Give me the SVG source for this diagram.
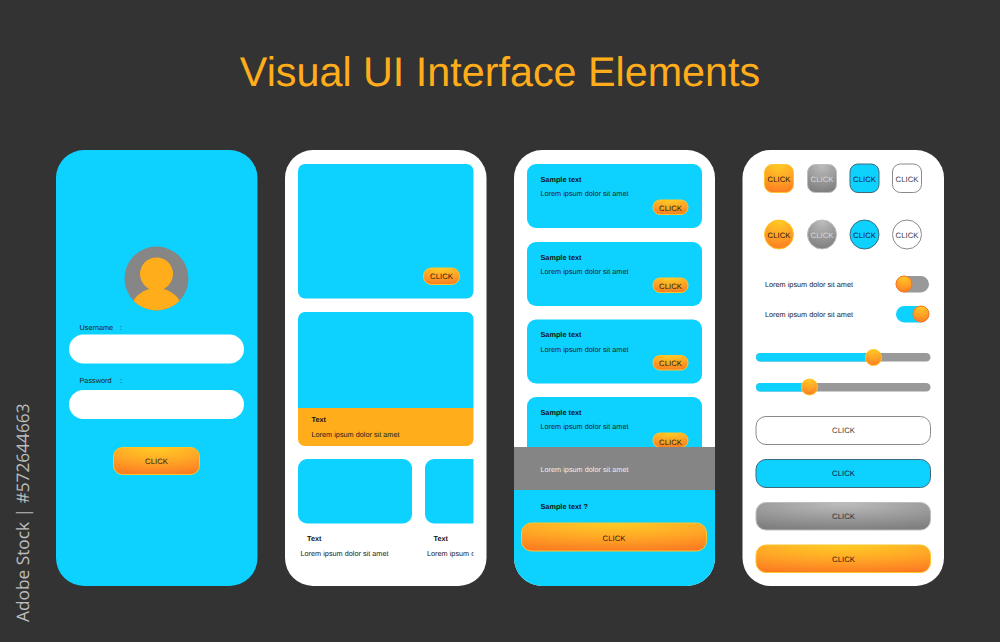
<svg xmlns="http://www.w3.org/2000/svg" width="1000" height="642" viewBox="0 0 1000 642">
<style>
text{font-family:"Liberation Sans",Arial,sans-serif;fill:#222;text-rendering:geometricPrecision}
.c{text-anchor:middle}
.s{font-size:7.300px}
.b{font-size:7.300px;font-weight:700;fill:#111}
.k{font-size:7.800px;text-anchor:middle;fill:#33230f}
.blue{fill:#0dd2ff}
.white{fill:#fff}
.or{fill:url(#og);stroke:#ffc42a;stroke-width:1}
.gr{fill:url(#gg);stroke:#bdbdbd;stroke-width:1}
.ol{fill:#fff;stroke:#8a8a8a;stroke-width:1}
.bl{fill:#0dd2ff;stroke:#3b6a78;stroke-width:1}
.track{fill:#999}
</style>
<defs>
<radialGradient id="og" cx="0.5" cy="-0.05" r="1.2"><stop offset="0" stop-color="#ffd024"/><stop offset="0.5" stop-color="#ffa526"/><stop offset="1" stop-color="#fb7020"/></radialGradient>
<radialGradient id="gg" cx="0.5" cy="0.05" r="0.95"><stop offset="0" stop-color="#bcbcbc"/><stop offset="1" stop-color="#7f7f7f"/></radialGradient>
<clipPath id="av"><circle cx="156.500" cy="278.500" r="32"/></clipPath>
<clipPath id="cp2"><rect x="298" y="459" width="175.500" height="110"/></clipPath>
<clipPath id="cp3"><rect x="514" y="150" width="201" height="436" rx="28"/></clipPath>
</defs>
<rect width="1000" height="642" fill="#333333"/>
<text x="500" y="86" class="c" style="font-size:41.300px;fill:#ffad1a">Visual UI Interface Elements</text>
<text transform="translate(29,622) rotate(-90)" style="font-size:17.300px;fill:#bdbdbd;font-family:'Open Sans',sans-serif">Adobe Stock | #572644663</text>

<g id="screen-login">
<rect x="56" y="150" width="201.500" height="436" rx="28" class="blue"/>
<circle cx="156.500" cy="278.500" r="32" fill="#868686"/>
<g clip-path="url(#av)"><circle cx="156.500" cy="274" r="16.500" fill="#ffad1a"/><ellipse cx="156.500" cy="314" rx="27" ry="26" fill="#ffad1a"/></g>
<text x="79.500" y="330" class="s">Username</text><text x="120" y="330" class="s">:</text>
<rect x="69" y="334.500" width="175" height="29" rx="14.500" class="white"/>
<text x="79.500" y="383" class="s">Password</text><text x="120" y="383" class="s">:</text>
<rect x="69" y="390" width="175" height="29" rx="14.500" class="white"/>
<rect x="113.500" y="447.500" width="86" height="27" rx="9" class="or"/>
<text x="156.500" y="464" class="k">CLICK</text>
</g>

<g id="screen-cards">
<rect x="285" y="150" width="201.500" height="436" rx="28" class="white"/>
<rect x="298" y="164" width="175.500" height="134.500" rx="7" class="blue"/>
<rect x="423.500" y="268" width="36" height="16.500" rx="8" class="or"/>
<text x="441.500" y="279.300" class="k">CLICK</text>
<path d="M305 312H466.500a7 7 0 0 1 7 7V408H298V319a7 7 0 0 1 7-7z" class="blue"/>
<path d="M298 408H473.500V439a7 7 0 0 1-7 7H305a7 7 0 0 1-7-7z" fill="#ffad1a"/>
<text x="311.500" y="422" class="b">Text</text>
<text x="311.500" y="436.500" class="s">Lorem ipsum dolor sit amet</text>
<rect x="298" y="459" width="114" height="64.500" rx="9" class="blue"/>
<g clip-path="url(#cp2)"><rect x="425" y="459" width="114" height="64.500" rx="9" class="blue"/></g>
<text x="307" y="541" class="b">Text</text>
<text x="300.500" y="555.500" class="s">Lorem ipsum dolor sit amet</text>
<text x="433.500" y="541" class="b">Text</text>
<g clip-path="url(#cp2)"><text x="427" y="555.500" class="s">Lorem ipsum dolor sit amet</text></g>
</g>

<g id="screen-list">
<rect x="514" y="150" width="201" height="436" rx="28" class="white"/>
<g id="list-card-1"><rect x="527" y="164" width="175" height="64" rx="9" class="blue"/><text x="540.500" y="181.500" class="b">Sample text</text><text x="540.500" y="196" class="s">Lorem ipsum dolor sit amet</text><rect x="653" y="200" width="35" height="14.500" rx="7" class="or"/><text x="670.500" y="210.500" class="k">CLICK</text></g>
<g id="list-card-2"><rect x="527" y="242" width="175" height="64" rx="9" class="blue"/><text x="540.500" y="259.500" class="b">Sample text</text><text x="540.500" y="274" class="s">Lorem ipsum dolor sit amet</text><rect x="653" y="278" width="35" height="14.500" rx="7" class="or"/><text x="670.500" y="288.500" class="k">CLICK</text></g>
<g id="list-card-3"><rect x="527" y="319.500" width="175" height="64" rx="9" class="blue"/><text x="540.500" y="337" class="b">Sample text</text><text x="540.500" y="351.500" class="s">Lorem ipsum dolor sit amet</text><rect x="653" y="355.500" width="35" height="14.500" rx="7" class="or"/><text x="670.500" y="366" class="k">CLICK</text></g>
<g id="list-card-4"><rect x="527" y="397" width="175" height="64" rx="9" class="blue"/><text x="540.500" y="414.500" class="b">Sample text</text><text x="540.500" y="429" class="s">Lorem ipsum dolor sit amet</text><rect x="653" y="433" width="35" height="14.500" rx="7" class="or"/><text x="670.500" y="444.500" class="k">CLICK</text></g>
<g clip-path="url(#cp3)">
<rect x="514" y="447" width="201" height="43" fill="#858585"/>
<rect x="514" y="490" width="201" height="96" class="blue"/>
</g>
<text x="540.500" y="471.500" class="s" style="fill:#eee">Lorem ipsum dolor sit amet</text>
<text x="540.500" y="508.500" class="b">Sample text ?</text>
<rect x="521.500" y="523" width="185" height="28" rx="10" class="or"/>
<text x="614" y="541" class="k">CLICK</text>
</g>

<g id="screen-controls">
<rect x="742.500" y="150" width="201.500" height="436" rx="28" class="white"/>
<g id="square-buttons">
<rect x="764.500" y="164.500" width="29" height="28" rx="8" class="or"/><text x="779" y="181.500" class="k">CLICK</text>
<rect x="807.500" y="164.500" width="29" height="28" rx="8" class="gr"/><text x="822" y="181.500" class="k" style="fill:#d8d8d8">CLICK</text>
<rect x="850" y="164" width="29" height="28.500" rx="8" class="bl"/><text x="864.500" y="181.500" class="k" style="fill:#124">CLICK</text>
<rect x="892.500" y="164" width="29" height="28.500" rx="8" class="ol"/><text x="907" y="181.500" class="k" style="fill:#444">CLICK</text>
</g>
<g id="round-buttons">
<circle cx="779" cy="234.500" r="14.500" class="or"/><text x="779" y="237.500" class="k">CLICK</text>
<circle cx="822" cy="234.500" r="14.500" class="gr"/><text x="822" y="237.500" class="k" style="fill:#d8d8d8">CLICK</text>
<circle cx="864.500" cy="234.500" r="14.500" class="bl"/><text x="864.500" y="237.500" class="k" style="fill:#124">CLICK</text>
<circle cx="907" cy="234.500" r="14.500" class="ol"/><text x="907" y="237.500" class="k" style="fill:#444">CLICK</text>
</g>
<g id="toggle-1"><text x="765" y="287" class="s">Lorem ipsum dolor sit amet</text><rect x="896" y="276" width="33" height="16.500" rx="8.250" class="track"/><circle cx="904" cy="284" r="8" class="or" style="stroke:#fb7520"/></g>
<g id="toggle-2"><text x="765" y="317" class="s">Lorem ipsum dolor sit amet</text><rect x="896" y="306" width="33" height="16.500" rx="8.250" class="blue"/><circle cx="921" cy="314" r="8" class="or" style="stroke:#fb7520"/></g>
<g id="slider-1"><rect x="756" y="353" width="174.500" height="8.500" rx="4.250" class="track"/><rect x="756" y="353" width="118" height="8.500" rx="4.250" class="blue"/><circle cx="873.500" cy="357.500" r="8" class="or"/></g>
<g id="slider-2"><rect x="756" y="383" width="174.500" height="8.500" rx="4.250" class="track"/><rect x="756" y="383" width="54" height="8.500" rx="4.250" class="blue"/><circle cx="809.500" cy="387" r="8" class="or"/></g>
<g id="wide-outline"><rect x="756" y="416.500" width="174.500" height="28" rx="10" class="ol"/><text x="843.500" y="433" class="k" style="fill:#444">CLICK</text></g>
<g id="wide-blue"><rect x="756" y="459.500" width="174.500" height="28" rx="10" class="bl"/><text x="843.500" y="476" class="k" style="fill:#124">CLICK</text></g>
<g id="wide-grey"><rect x="756" y="502.500" width="174.500" height="27.500" rx="10" class="gr"/><text x="843.500" y="519" class="k" style="fill:#333">CLICK</text></g>
<g id="wide-orange"><rect x="756" y="545" width="174.500" height="27.500" rx="10" class="or"/><text x="843.500" y="561.500" class="k">CLICK</text></g>
</g>
<g id="connectors"/>
</svg>
